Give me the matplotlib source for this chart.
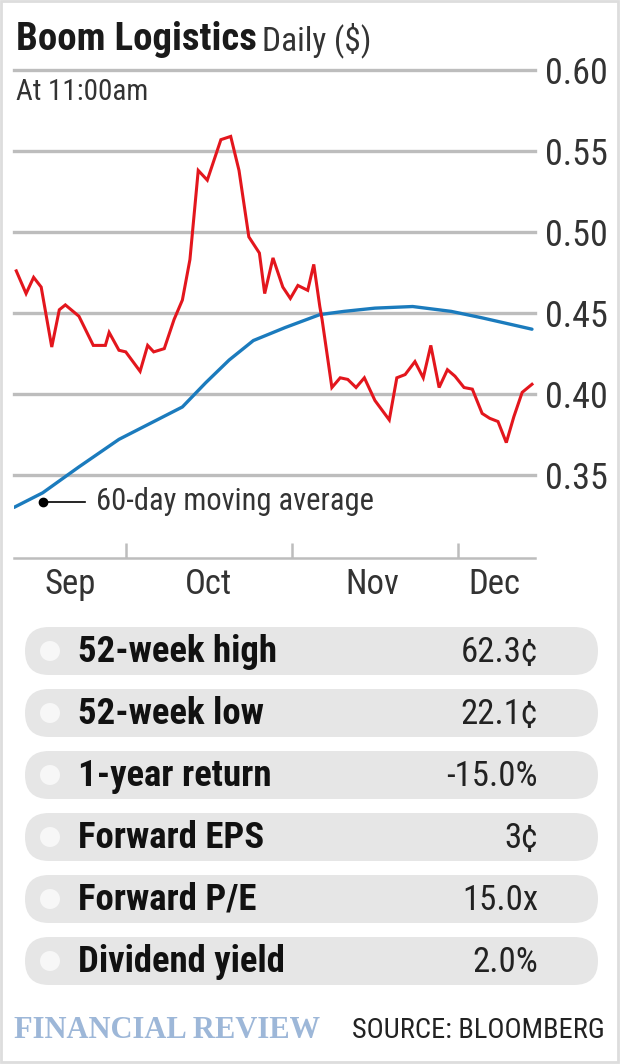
import matplotlib.pyplot as plt
from matplotlib.patches import FancyBboxPatch, Circle, Rectangle

# share price (x = trading day from start of window)
red_day = [0.3, 1.6, 2.6, 3.6, 5.0, 6.0, 6.8, 8.6, 10.5, 12.1,
           12.6, 13.9, 14.8, 16.7, 17.7, 18.5, 19.9, 21.2, 22.3, 23.3,
           24.4, 25.6, 27.4, 28.7, 29.8, 31.1, 32.5, 33.2, 34.3, 35.6,
           36.6, 37.6, 38.9, 39.7, 40.5, 40.8, 42.1, 43.2, 44.2, 45.3,
           46.4, 47.8, 49.7, 50.7, 51.8, 53.1, 54.2, 55.2, 56.3, 57.4,
           58.4, 59.6, 60.7, 62.0, 63.0, 64.1, 65.2, 66.2, 67.3, 68.6]
red_price = [0.476, 0.462, 0.472, 0.466, 0.429, 0.452, 0.455, 0.448, 0.430, 0.430,
             0.438, 0.427, 0.426, 0.414, 0.430, 0.426, 0.428, 0.446, 0.458, 0.483,
             0.538, 0.532, 0.557, 0.559, 0.538, 0.497, 0.487, 0.462, 0.484, 0.466,
             0.459, 0.467, 0.464, 0.480, 0.454, 0.446, 0.404, 0.410, 0.409, 0.404,
             0.410, 0.396, 0.384, 0.410, 0.412, 0.420, 0.410, 0.430, 0.404, 0.415,
             0.411, 0.404, 0.403, 0.388, 0.385, 0.383, 0.370, 0.386, 0.401, 0.406]

# 60-day moving average
ma_day = [0, 3.8, 8.6, 13.9, 22.3, 25.4, 28.5, 31.7, 35.9, 40.5, 43.7, 47.8, 52.8, 57.9, 62.0, 68.6]
ma_price = [0.330, 0.339, 0.355, 0.372, 0.392, 0.407, 0.421, 0.433, 0.441, 0.449,
            0.451, 0.453, 0.454, 0.451, 0.447, 0.440]

y_ticks = [0.35, 0.40, 0.45, 0.50, 0.55, 0.60]
month_edges = [14.8, 36.8, 58.8]
month_mid = [7.4, 25.8, 47.4, 63.6]
month_labels = ["Sep", "Oct", "Nov", "Dec"]

stat_labels = ["52-week high", "52-week low", "1-year return", "Forward EPS", "Forward P/E", "Dividend yield"]
stat_values = ["62.3¢", "22.1¢", "-15.0%", "3¢", "15.0x", "2.0%"]

NARROW = ["Roboto Condensed", "DejaVu Sans"]
GRID = "#bdbdbd"
RED = "#e3161d"
BLUE = "#1b7bbd"
INK = "#333333"

W, H = 620, 1064
fig = plt.figure(figsize=(W / 100, H / 100), dpi=100)
fig.patch.set_facecolor("white")

# chart axes, placed in pixel terms
ax = fig.add_axes([14 / W, (H - 558) / H, (535 - 14) / W, (558 - 70) / H])
ax.set_xlim(0, 69)
ax.set_ylim(0.60 - 488 * 0.25 / 405, 0.60)
ax.set_facecolor("none")

for v in y_ticks:
    ax.axhline(v, color=GRID, lw=2.4, zorder=1, clip_on=False)

ax.plot(ma_day, ma_price, color=BLUE, lw=2.4, zorder=3, solid_capstyle="round")
ax.plot(red_day, red_price, color=RED, lw=2.2, zorder=4, solid_joinstyle="miter")

# moving-average callout
ax.plot([3.84], [0.3334], "o", color="black", ms=6, zorder=5)
ax.plot([3.84, 9.4], [0.3334, 0.3334], color="black", lw=1.2, zorder=5)
ax.text(10.9, 0.3334, "60-day moving average", family=NARROW, fontsize=22,
        color=INK, va="center", ha="left")

for s in ["top", "left", "right"]:
    ax.spines[s].set_visible(False)
ax.spines["bottom"].set_color(GRID)
ax.spines["bottom"].set_linewidth(1.8)

ax.yaxis.tick_right()
ax.set_yticks(y_ticks)
ax.set_yticklabels([f"{v:.2f}" for v in y_ticks], family=NARROW, fontsize=26, color=INK)
ax.tick_params(axis="y", length=0, pad=7)

ax.set_xticks(month_edges)
ax.set_xticklabels([])
ax.tick_params(axis="x", which="major", direction="in", length=11, width=1.8, color=GRID)
ax.set_xticks(month_mid, minor=True)
ax.set_xticklabels(month_labels, minor=True, family=NARROW, fontsize=25, color=INK)
ax.tick_params(axis="x", which="minor", length=0, pad=7)

# overlay in pixel coordinates for the header, stat table and footer
ov = fig.add_axes([0, 0, 1, 1])
ov.set_xlim(0, W)
ov.set_ylim(H, 0)
ov.axis("off")
ov.set_zorder(-1)

ov.add_patch(Rectangle((1, 1), W - 3, H - 3, fill=False, ec="#dddddd", lw=2))

ov.text(16, 50, "Boom Logistics", family=NARROW, fontweight="bold", fontsize=28,
        color="#1a1a1a", va="baseline")
ov.text(262, 50, "Daily ($)", family=NARROW, fontsize=24, color=INK, va="baseline")
ov.text(16, 100, "At 11:00am", family=NARROW, fontsize=21, color=INK, va="baseline")

for i, (lab, val) in enumerate(zip(stat_labels, stat_values)):
    cy = 651 + i * 62
    ov.add_patch(FancyBboxPatch((25, cy - 24), 573, 48,
                                boxstyle="round,pad=0,rounding_size=24",
                                fc="#e6e6e6", ec="none"))
    ov.add_patch(Circle((50, cy), 10, fc="#f7f7f7", ec="none"))
    ov.text(78, cy + 1, lab, family=NARROW, fontweight="bold", fontsize=26.5,
            color="#111111", va="center", ha="left")
    ov.text(538, cy + 1, val, family=NARROW, fontsize=25, color="#222222",
            va="center", ha="right")

ov.text(14, 1031, "FINANCIAL REVIEW", family="Liberation Serif", fontweight="bold",
        fontsize=22, color="#9db7d8", va="center", ha="left")
ov.text(605, 1031, "SOURCE: BLOOMBERG", family=NARROW, fontsize=20.5,
        color="#222222", va="center", ha="right")

fig.savefig("out.png", dpi=100)
